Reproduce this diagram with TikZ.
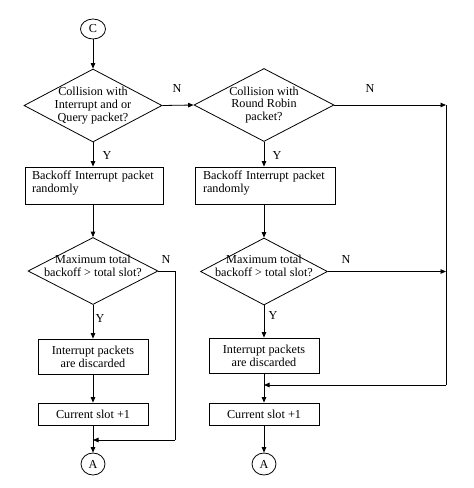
\documentclass[tikz,border=0pt]{standalone}
\usepackage{fontspec}
\setmainfont{Liberation Serif}
\usetikzlibrary{shapes.geometric,arrows.meta}
\begin{document}
\begin{tikzpicture}[x=1pt,y=-1pt,
  every node/.style={font=\fontsize{12.2}{12.8}\selectfont},
  line/.style={draw=black,line width=0.8pt},
  arr/.style={line,-{Triangle[length=5.5pt,width=4.5pt]}},
  dec/.style={draw=black,line width=0.8pt,diamond,inner sep=0pt},
  txt/.style={inner sep=0pt,align=center},
  proc/.style={draw=black,line width=0.8pt,rectangle,inner sep=0pt},
  conn/.style={draw=black,line width=0.8pt,ellipse,inner sep=0pt,minimum width=25pt,minimum height=20pt},
  lbl/.style={inner sep=0pt}]
\useasboundingbox (0,0) rectangle (474,488);
% left column
\node[conn] (C) at (93,29) {C};
\node[dec,minimum width=138pt,minimum height=73pt,
  label={[txt]center:Collision with\\Interrupt and or\\Query packet?}] (d1) at (93,105.5) {};
\node[proc,minimum width=138pt,minimum height=37pt] (b1) at (94,185.5) {};
\node[txt,text width=122pt,align=left] (t1) at (93,183) {\makebox[122pt][s]{Backoff Interrupt packet}\\randomly};
\node[dec,minimum width=130pt,minimum height=67pt] (d3) at (93,271) {};
\node[txt] (t3) at (93,266) {Maximum total\\backoff > total slot?};
\node[proc,minimum width=110pt,minimum height=35pt,align=center] (b3) at (93,356.5) {Interrupt packets\\are discarded};
\node[proc,minimum width=110pt,minimum height=22pt] (b4) at (93,414) {Current slot +1};
\node[conn,minimum width=24pt,minimum height=22pt] (A1) at (93,464) {A};
% right column
\node[dec,minimum width=140pt,minimum height=73pt,
  label={[txt]center:Collision with\\Round Robin\\packet?}] (d2) at (264,105) {};
\node[proc,minimum width=140pt,minimum height=37pt] (b2) at (265,185.5) {};
\node[txt,text width=124pt,align=left] (t2) at (265,183) {\makebox[124pt][s]{Backoff Interrupt packet}\\randomly};
\node[dec,minimum width=127pt,minimum height=67pt] (d4) at (264,271.5) {};
\node[txt] (t4) at (264,266) {Maximum total\\backoff > total slot?};
\node[proc,minimum width=110pt,minimum height=35pt,align=center] (b5) at (264,355.5) {Interrupt packets\\are discarded};
\node[proc,minimum width=110pt,minimum height=22pt] (b6) at (264,414) {Current slot +1};
\node[conn,minimum width=24pt,minimum height=22pt] (A2) at (264,464) {A};
% junction coordinates
\coordinate (r1) at (446,105);
\coordinate (r2) at (446,271.5);
\coordinate (r3) at (446,385);
\coordinate (j2) at (264,385);
\coordinate (l1) at (175,271);
\coordinate (l2) at (175,440);
\coordinate (j1) at (93,440);
% connectors left
\draw[arr] (C) -- (d1);
\draw[arr] (d1) -- (b1.north -| d1);
\draw[arr] (b1.south -| d1) -- (d3);
\draw[arr] (d3) -- (b3);
\draw[arr] (b3) -- (b4);
\draw[arr] (b4) -- (A1);
\draw[line] (d3.east) -- (l1) -- (l2);
\draw[arr] (l2) -- (j1);
% connectors right
\draw[arr] (d1.east) -- (d2.west);
\draw[arr] (d2.east) -- (r1);
\draw[line] (r1) -- (r3);
\draw[arr] (r3) -- (j2);
\draw[arr] (d2) -- (b2.north -| d2);
\draw[arr] (b2.south -| d2) -- (d4);
\draw[arr] (d4.east) -- (r2);
\draw[arr] (d4) -- (b5);
\draw[arr] (b5) -- (b6);
\draw[arr] (b6) -- (A2);
% labels
\node[lbl] (n1) at (177,89) {N};
\node[lbl] (n2) at (370,89) {N};
\node[lbl] (n3) at (166,260) {N};
\node[lbl] (n4) at (346,260) {N};
\node[lbl] (y1) at (107,156) {Y};
\node[lbl] (y2) at (277,156) {Y};
\node[lbl] (y3) at (100,319) {Y};
\node[lbl] (y4) at (273,316) {Y};
\end{tikzpicture}
\end{document}
